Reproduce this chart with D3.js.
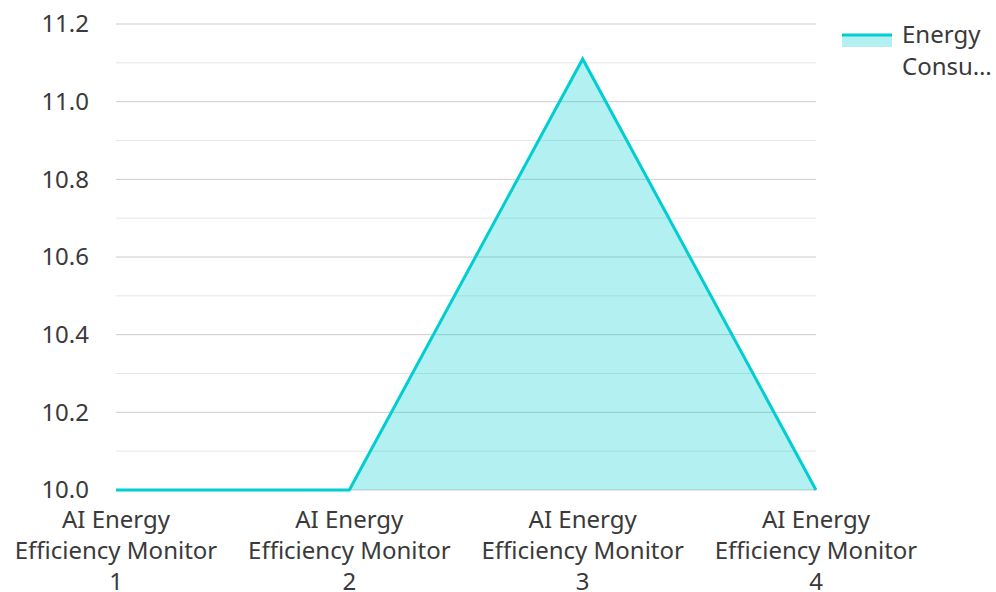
<!DOCTYPE html>
<html><head><meta charset="utf-8">
<script src="https://cdn.jsdelivr.net/npm/d3@7"></script>
<style>body{margin:0;background:#fff;}svg{display:block;font-family:"Noto Sans",sans-serif;}</style>
</head><body>
<svg id="chart" width="996" height="592"></svg>
<script>
const categories = ["AI Energy Efficiency Monitor 1","AI Energy Efficiency Monitor 2","AI Energy Efficiency Monitor 3","AI Energy Efficiency Monitor 4"];
const categoryLines = [["AI Energy","Efficiency Monitor","1"],["AI Energy","Efficiency Monitor","2"],["AI Energy","Efficiency Monitor","3"],["AI Energy","Efficiency Monitor","4"]];
const values = [10.0, 10.0, 11.11, 10.0];
const seriesName = "Energy Consumption";
const legendLines = ["Energy","Consu\u2026"];
const yTicks = [10.0,10.2,10.4,10.6,10.8,11.0,11.2];
const yMinorTicks = [10.1,10.3,10.5,10.7,10.9,11.1];

(function(){
const svg = d3.select("#chart");
const pLeft = 116, pRight = 816, pTop = 24, pBottom = 490;
const color = "#00CED1";
const fs = 24;
const textColor = "#3a3a3a";
const x = d3.scalePoint().domain(categories).range([pLeft, pRight]);
const y = d3.scaleLinear().domain([10.0, 11.2]).range([pBottom, pTop]);

svg.append("g").selectAll("line").data(yMinorTicks).join("line")
  .attr("x1", pLeft).attr("x2", pRight).attr("y1", d=>y(d)).attr("y2", d=>y(d))
  .attr("stroke", "#e6e6e6").attr("stroke-width", 1);
svg.append("g").selectAll("line").data(yTicks).join("line")
  .attr("x1", pLeft).attr("x2", pRight).attr("y1", d=>y(d)).attr("y2", d=>y(d))
  .attr("stroke", "#cccccc").attr("stroke-width", 1);

svg.append("g").selectAll("text").data(yTicks).join("text")
  .attr("x", 89).attr("y", d=>y(d)).attr("dy", "0.35em")
  .attr("text-anchor", "end").attr("font-size", fs).attr("fill", textColor)
  .text(d=>d3.format(".1f")(d));

const area = d3.area().x((d,i)=>x(categories[i])).y0(y(10.0)).y1(d=>y(d));
const line = d3.line().x((d,i)=>x(categories[i])).y(d=>y(d));
svg.append("path").datum(values).attr("d", area).attr("fill", color).attr("fill-opacity", 0.3);
svg.append("path").datum(values).attr("d", line).attr("fill", "none").attr("stroke", color).attr("stroke-width", 3);

const xl = svg.append("g");
categories.forEach((c,i)=>{
  const t = xl.append("text").attr("text-anchor","middle").attr("font-size",fs).attr("fill",textColor);
  categoryLines[i].forEach((s,j)=>{
    t.append("tspan").attr("x", x(c)).attr("y", 528 + j*31).text(s);
  });
});

const lg = svg.append("g");
lg.append("rect").attr("x",842).attr("y",34).attr("width",50).attr("height",13).attr("fill",color).attr("fill-opacity",0.3);
lg.append("line").attr("x1",842).attr("x2",892).attr("y1",35).attr("y2",35).attr("stroke",color).attr("stroke-width",3);
const lt = lg.append("text").attr("font-size",fs).attr("fill",textColor);
lt.append("title").text(seriesName);
legendLines.forEach((s,j)=>lt.append("tspan").attr("x",902).attr("y",43+j*32).text(s));
})();
</script>
</body></html>
